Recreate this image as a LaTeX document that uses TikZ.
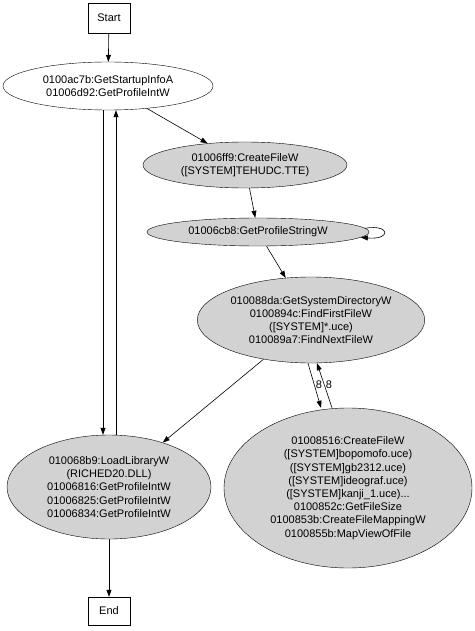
\documentclass[tikz,border=0pt]{standalone}
\usepackage{fontspec}
\setmainfont{Liberation Sans}
\usetikzlibrary{shapes.geometric,arrows.meta}
\begin{document}
\begin{tikzpicture}[x=1pt,y=-1pt,
  every node/.style={font=\fontsize{11}{13.2}\selectfont, align=center, inner sep=0pt},
  box/.style={draw, minimum width=42pt, minimum height=30pt},
  ell/.style={draw, ellipse},
  gell/.style={draw, ellipse, fill=gray!35},
  arr/.style={-{Triangle[length=7pt,width=5pt]}, line width=0.6pt},
  lbl/.style={font=\fontsize{11}{13}\selectfont}]
\useasboundingbox (0,0) rectangle (474,631);
\node[box] (start) at (109,18) {Start};
\node[ell, minimum width=210pt, minimum height=48pt] (n1) at (108,86) {0100ac7b:GetStartupInfoA\\01006d92:GetProfileIntW};
\node[gell, minimum width=204pt, minimum height=46pt] (n2) at (245,165) {01006ff9:CreateFileW\\([SYSTEM]TEHUDC.TTE)};
\node[gell, minimum width=222pt, minimum height=28pt] (n3) at (258,232) {01006cb8:GetProfileStringW};
\node[gell, minimum width=222pt, minimum height=86pt] (n4) at (311,320) {010088da:GetSystemDirectoryW\\0100894c:FindFirstFileW\\([SYSTEM]*.uce)\\010089a7:FindNextFileW};
\node[gell, minimum width=204pt, minimum height=104pt] (n5) at (109,487) {010068b9:LoadLibraryW\\(RICHED20.DLL)\\01006816:GetProfileIntW\\01006825:GetProfileIntW\\01006834:GetProfileIntW};
\node[gell, minimum width=248pt, minimum height=160pt] (n6) at (348,488) {01008516:CreateFileW\\([SYSTEM]bopomofo.uce)\\([SYSTEM]gb2312.uce)\\([SYSTEM]ideograf.uce)\\([SYSTEM]kanji\_1.uce)...\\0100852c:GetFileSize\\0100853b:CreateFileMappingW\\0100855b:MapViewOfFile};
\node[box, minimum height=28pt] (end) at (109,611) {End};

\draw[arr] (start) -- (n1);
\draw[arr] (n1.south -| 103,0) -- (n5.north -| 103,0);
\draw[arr] (n5.north -| 116,0) -- (n1.south -| 116,0);
\draw[arr] (n1) -- (n2);
\draw[arr] (n2) -- (n3);
\draw[arr] (n3.2) .. controls (390,224) and (392,240) .. (n3.-3);
\draw[arr] (n3) -- (n4);
\draw[arr] (n4) -- (n5);
\draw[arr] (n4.south -| 308,0) -- (n6.north -| 321,0);
\draw[arr] (n6.north -| 332,0) -- (n4.south -| 317,0);
\node[lbl] (l1) at (319,385) {8};
\node[lbl] (l2) at (329,385) {8};
\draw[arr] (n5) -- (end);
\end{tikzpicture}
\end{document}
